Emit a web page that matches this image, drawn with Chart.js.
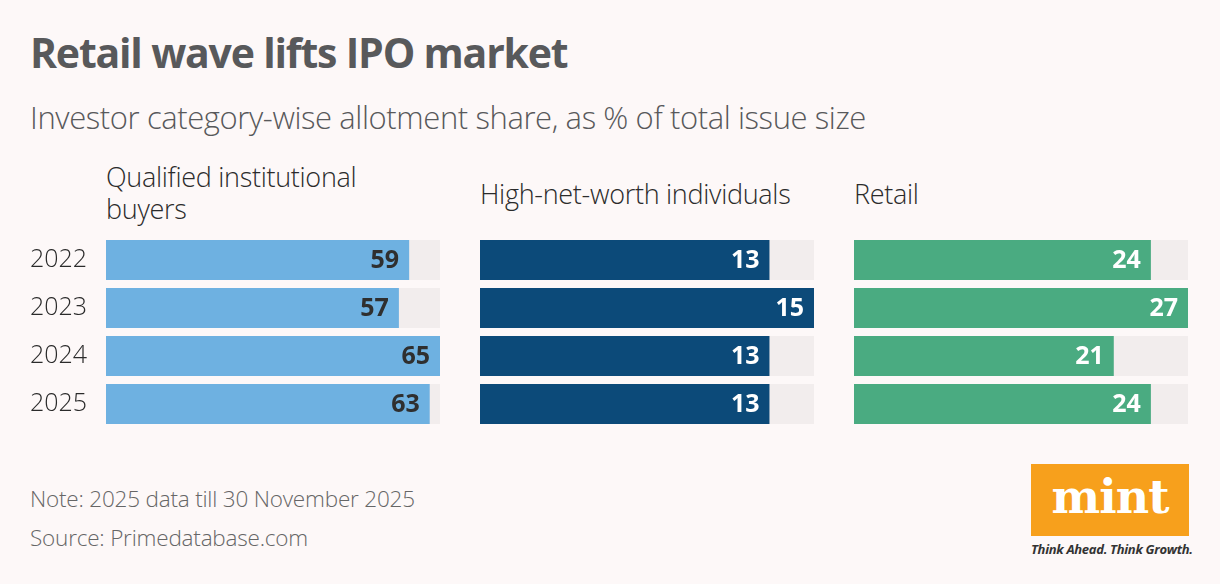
<!DOCTYPE html>
<html>
<head>
<meta charset="utf-8">
<script src="https://cdn.jsdelivr.net/npm/chart.js@4"></script>
<style>
  html, body { margin: 0; padding: 0; }
  body { width: 1220px; height: 584px; background: #fdf8f8; position: relative; overflow: hidden; font-family: 'Open Sans', sans-serif; }
  .abs { position: absolute; white-space: nowrap; }
  #title { left: 30px; top: 24px; font-size: 41px; font-weight: 700; color: #58595b; letter-spacing: -1.2px; }
  #subtitle { left: 30px; top: 96px; font-size: 31px; font-weight: 300; color: #58595b; letter-spacing: -0.4px; }
  .head { font-size: 27px; font-weight: 300; color: #2b2b2b; line-height: 32px; letter-spacing: -0.3px; }
  .foot { left: 30px; font-size: 22.5px; font-weight: 300; color: #666; letter-spacing: -0.2px; line-height: normal; }
  canvas { position: absolute; }
  #logo { left: 1031px; top: 464px; width: 158px; height: 72px; background: #f7a01c; color: #fff; font-family: 'DejaVu Serif', serif; font-weight: 700; font-size: 46px; text-align: center; line-height: 66px; letter-spacing: -1px; }
  #tag { left: 1031px; top: 540px; font-size: 13px; font-style: italic; font-weight: 700; color: #333; letter-spacing: -0.3px; }
</style>
</head>
<body>
<div class="abs" id="title">Retail wave lifts IPO market</div>
<div class="abs" id="subtitle">Investor category-wise allotment share, as % of total issue size</div>
<div class="abs head" style="left:106px; top:161px;">Qualified institutional<br>buyers</div>
<div class="abs head" style="left:480px; top:178px;">High-net-worth individuals</div>
<div class="abs head" style="left:854px; top:178px;">Retail</div>

<canvas id="qib" width="450" height="212" style="left:0; top:226px;"></canvas>
<canvas id="hni" width="354" height="212" style="left:470px; top:226px;"></canvas>
<canvas id="retail" width="354" height="212" style="left:844px; top:226px;"></canvas>

<div class="abs foot" style="top:483px;">Note: 2025 data till 30 November 2025</div>
<div class="abs foot" style="top:522px;">Source: Primedatabase.com</div>
<div class="abs" id="logo">mint</div>
<div class="abs" id="tag">Think Ahead. Think Growth.</div>

<script>
'use strict';
const years = ['2022', '2023', '2024', '2025'];
const qibShare = [59, 57, 65, 63];
const hniShare = [13, 15, 13, 13];
const retailShare = [24, 27, 21, 24];

const TRACK = '#f2eded';

// draws the value inside the end of each bar
const valueLabels = {
  id: 'valueLabels',
  afterDatasetsDraw(chart, args, opts) {
    const ctx = chart.ctx;
    const meta = chart.getDatasetMeta(1);
    const data = chart.data.datasets[1].data;
    ctx.save();
    ctx.font = '700 25px "Open Sans", sans-serif';
    ctx.fillStyle = opts.color;
    ctx.textAlign = 'right';
    ctx.textBaseline = 'middle';
    meta.data.forEach((bar, i) => {
      ctx.fillText(String(data[i]), bar.x - 10, bar.y + 1);
    });
    ctx.restore();
  },
};

function makePanel(id, values, color, labelColor, showYears) {
  const max = Math.max(...values);
  return new Chart(document.getElementById(id), {
    type: 'bar',
    data: {
      labels: years,
      datasets: [
        {
          data: values.map(() => max),
          backgroundColor: TRACK,
          order: 2,
        },
        {
          data: values,
          backgroundColor: color,
          order: 1,
        },
      ],
    },
    options: {
      indexAxis: 'y',
      responsive: false,
      animation: false,
      grouped: false,
      categoryPercentage: 1,
      barPercentage: 40 / 48,
      layout: { padding: { top: 10, bottom: 10, right: 10, left: showYears ? 0 : 10 } },
      scales: {
        x: { display: false, min: 0, max: max },
        y: {
          display: showYears,
          grid: { display: false, drawTicks: false },
          border: { display: false },
          ticks: {
            padding: 19,
            color: '#2b2b2b',
            font: { family: 'Open Sans', size: 25, weight: 300 },
          },
          afterFit(scale) {
            if (showYears) scale.width = 106;
            scale.paddingTop = 0;
            scale.paddingBottom = 0;
          },
        },
      },
      plugins: {
        legend: { display: false },
        tooltip: { enabled: false },
        valueLabels: { color: labelColor },
      },
    },
    plugins: [valueLabels],
  });
}

makePanel('qib', qibShare, '#6eb1e1', '#2f2f2f', true);
makePanel('hni', hniShare, '#0c4a79', '#ffffff', false);
makePanel('retail', retailShare, '#4aab81', '#ffffff', false);
</script>
</body>
</html>
